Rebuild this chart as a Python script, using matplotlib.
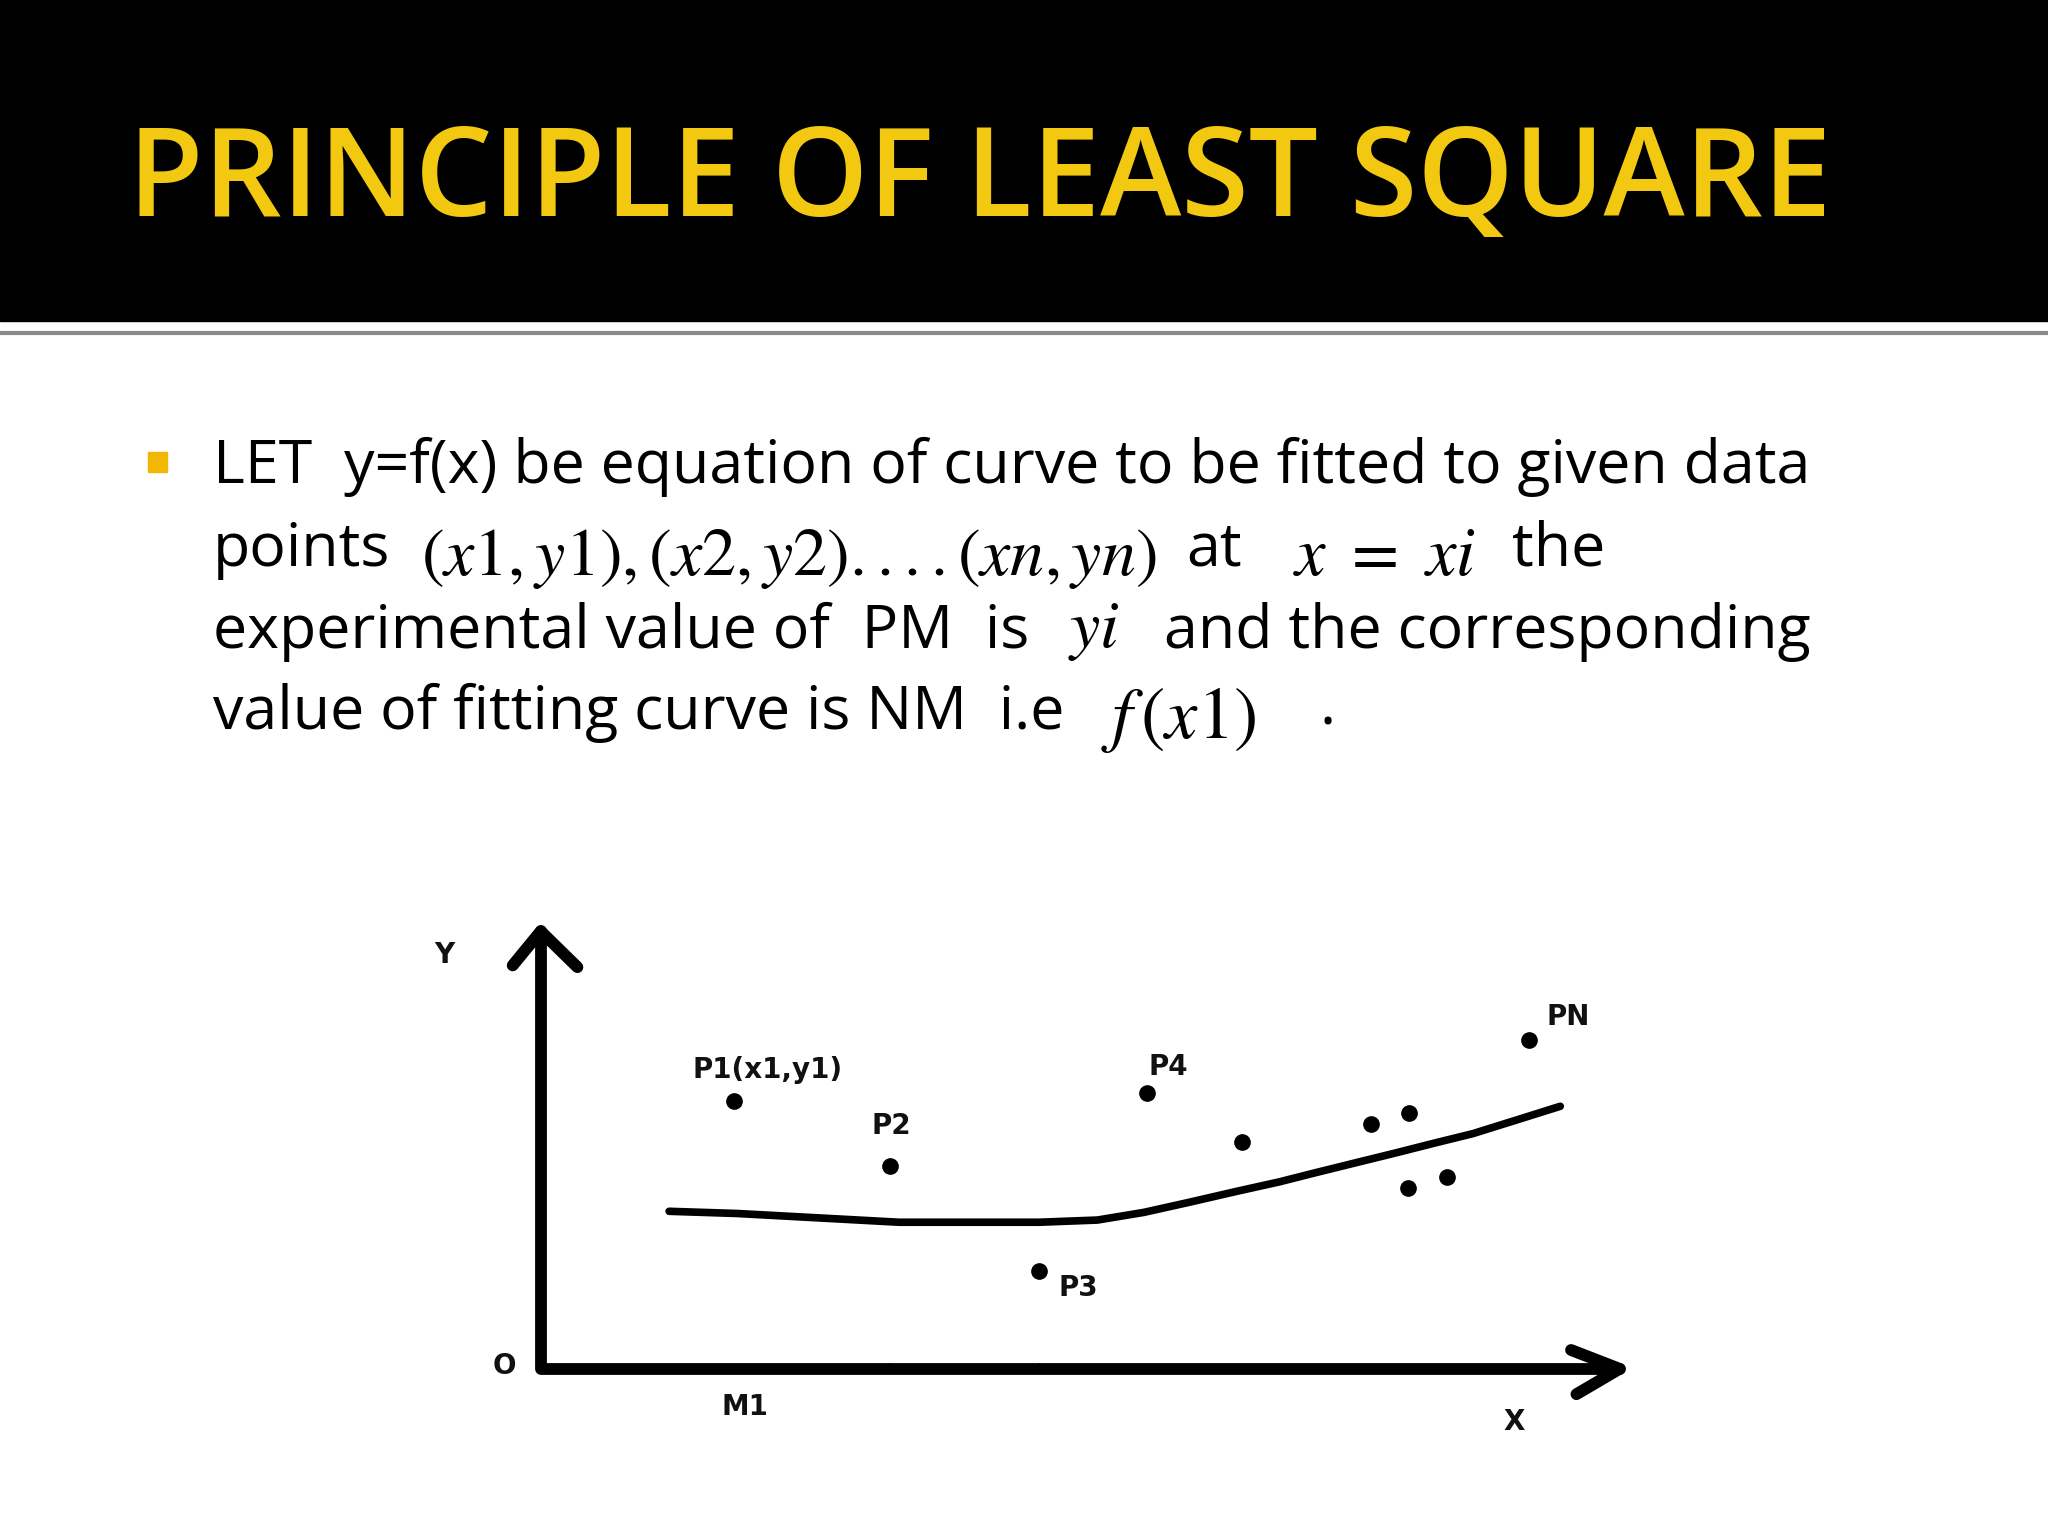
import matplotlib
matplotlib.use("Agg")
import matplotlib.pyplot as plt
from matplotlib.patches import Rectangle

plt.rcParams['mathtext.fontset'] = 'stix'

# ---- data (x: 0..10, y: 0..4 in axis units) ----
point_labels = ["P1(x1,y1)", "P2", "P3", "P4", "", "", "", "", "", "PN"]
point_x = [1.79, 3.24, 4.62, 5.62, 6.50, 7.70, 8.05, 8.04, 8.40, 9.16]
point_y = [2.45, 1.85, 0.89, 2.52, 2.07, 2.24, 2.34, 1.65, 1.75, 3.01]

curve_x = [1.19, 1.82, 2.57, 3.32, 4.07, 4.62, 5.16, 5.59, 6.00, 6.44,
           6.85, 7.17, 7.58, 7.91, 8.31, 8.64, 9.03, 9.45]
curve_y = [1.44, 1.42, 1.38, 1.34, 1.34, 1.34, 1.36, 1.43, 1.52, 1.62,
           1.71, 1.79, 1.89, 1.97, 2.07, 2.15, 2.27, 2.40]

title = "PRINCIPLE OF LEAST SQUARE"

# label offsets (points) from each dot
label_off = [(24, 22), (1, 29), (28, -12), (15, 19), (0, 0), (0, 0),
             (0, 0), (0, 0), (0, 0), (28, 16)]

W, H = 1568, 1176   # layout units for the slide
YELLOW = '#f2c811'
BULLET = '#f2b705'

fig = plt.figure(figsize=(20.48, 15.36), dpi=100)
bg = fig.add_axes([0, 0, 1, 1])
bg.set_xlim(0, W)
bg.set_ylim(H, 0)
bg.axis('off')

# header band
bg.add_patch(Rectangle((0, 0), W, 246, color='black', zorder=0))
bg.plot([0, W], [255, 255], color='#8a8a8a', lw=3, solid_capstyle='butt')

renderer = fig.canvas.get_renderer()


def fit(t, target):
    w = t.get_window_extent(renderer).width * W / 2048
    t.set_fontsize(t.get_fontsize() * target / w)
    return t.get_fontsize()


tt = bg.text(750, 165, title, ha='center', va='baseline', color=YELLOW,
             fontsize=80, family='Open Sans', fontweight='semibold')
fit(tt, 1306)

# bullet
bg.add_patch(Rectangle((113, 346), 15, 15, color=BULLET))

body = dict(family='Open Sans', color='black', va='baseline', ha='left')
l1 = bg.text(163, 370, "LET  y=f(x) be equation of curve to be fitted to given data",
             fontsize=40, **body)
fs = fit(l1, 1220)
body['fontsize'] = fs

math = dict(color='black', va='baseline', ha='left')
m1 = bg.text(322, 440, r"$(x1, y1),(x2, y2)....(xn, yn)$", fontsize=50, **math)
mfs = fit(m1, 564)
math['fontsize'] = mfs

bg.text(163, 433, "points", **body)
bg.text(908, 433, "at", **body)
m2 = bg.text(990, 440, r"$x\ =\ xi$", **math)
fit(m2, 140)
bg.text(1158, 433, "the", **body)

bg.text(163, 496, "experimental value of  PM  is", **body)
bg.text(818, 495, r"$yi$", **math)
bg.text(891, 496, "and the corresponding", **body)

bg.text(163, 558, "value of fitting curve is NM  i.e", **body)
m3 = bg.text(843, 565, r"$f\,(x1)$", **math)
fit(m3, 119)
bg.text(1010, 555, ".", **body)

# chart
ax = fig.add_axes([414 / W, 1 - 1048 / H, 826 / W, 335 / H])
ax.set_xlim(0, 10)
ax.set_ylim(0, 4)
ax.axis('off')

axis_kw = dict(color='black', lw=8.5, solid_capstyle='round',
               solid_joinstyle='round', transform=ax.transAxes, clip_on=False)
ax.plot([0, 0, 1], [1, 0, 0], **axis_kw)
ax.plot([-0.026, 0, 0.034], [0.922, 1.0, 0.918], **axis_kw)
ax.plot([0.955, 1.0, 0.960], [0.043, 0.0, -0.058], **axis_kw)

# small tick marks on the x axis
ax.vlines(point_x[1:3], 0, 0.05, color='black', lw=1.2)

ax.plot(curve_x, curve_y, color='black', lw=5.5, solid_capstyle='round',
        solid_joinstyle='round')
ax.plot(point_x, point_y, 'o', color='black', ms=11)

lab = dict(family='DejaVu Sans', fontweight='bold', fontsize=20, color='#111111')
for lbl, x, y, off in zip(point_labels, point_x, point_y, label_off):
    if lbl:
        ax.annotate(lbl, (x, y), xytext=off, textcoords='offset points',
                    ha='center', va='center', **lab)

bg.text(340, 731, "Y", ha='center', va='center', **lab)
bg.text(386, 1046, "O", ha='center', va='center', **lab)
bg.text(570, 1077, "M1", ha='center', va='center', **lab)
bg.text(1159, 1089, "X", ha='center', va='center', **lab)

fig.savefig("out.png", dpi=100, facecolor='white')
